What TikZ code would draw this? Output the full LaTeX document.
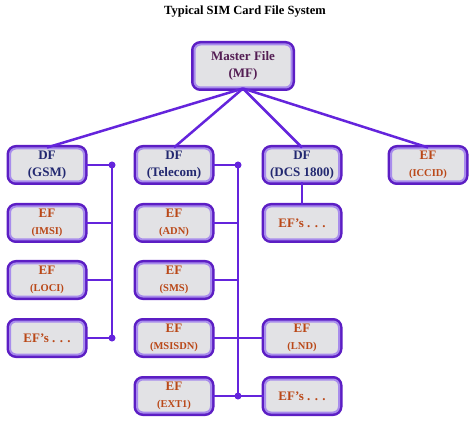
\documentclass[tikz,border=0pt]{standalone}
\usepackage{fontspec}
\setmainfont{Liberation Serif}
\usetikzlibrary{calc}
\definecolor{bordo}{RGB}{92,30,196}
\definecolor{bordochiaro}{RGB}{168,140,236}
\definecolor{grigio}{RGB}{226,226,229}
\definecolor{linea}{RGB}{100,36,220}
\definecolor{testodf}{RGB}{34,40,112}
\definecolor{testoef}{RGB}{186,72,24}
\definecolor{testomf}{RGB}{84,30,84}
\newcommand{\piccolo}[1]{{\fontsize{10.5}{11}\selectfont #1}}
\tikzset{
file node/.style={rectangle,rounded corners=6pt,fill=grigio,
  preaction={draw=bordo,line width=7pt},draw=bordochiaro,line width=2pt,
  minimum width=74pt,minimum height=33pt,inner sep=1pt,align=center,
  font=\bfseries\fontsize{13}{16.5}\selectfont},
df node/.style={file node,text=testodf},
ef node/.style={file node,text=testoef},
ramo/.style={draw=linea,line width=2.5pt},
punto/.style={circle,fill=linea,inner sep=0pt,minimum size=7pt}}

\begin{document}
\begin{tikzpicture}[x=1pt,y=-1pt]
\useasboundingbox (0,0) rectangle (474,422);

\node[font=\bfseries\fontsize{12.5}{14}\selectfont] (titolo) at (245,12) {Typical SIM Card File System};

\node[file node,text=testomf,minimum width=97pt,minimum height=43pt,
  font=\bfseries\fontsize{13}{17}\selectfont] (mf) at (243,66) {Master File\\(MF)};

\node[df node] (gsm) at (47,165) {DF\\(GSM)};
\node[ef node] (imsi) at (47,223) {EF\\\piccolo{(IMSI)}};
\node[ef node] (loci) at (47,280) {EF\\\piccolo{(LOCI)}};
\node[ef node] (gsmefs) at (47,338) {EF's . . .};

\node[df node] (telecom) at (174,165) {DF\\(Telecom)};
\node[ef node] (adn) at (174,223) {EF\\\piccolo{(ADN)}};
\node[ef node] (sms) at (174,280) {EF\\\piccolo{(SMS)}};
\node[ef node] (msisdn) at (174,338) {EF\\\piccolo{(MSISDN)}};
\node[ef node] (ext1) at (174,396) {EF\\\piccolo{(EXT1)}};

\node[df node] (dcs) at (302,165) {DF\\(DCS 1800)};
\node[ef node] (dcsefs) at (302,223) {EF's . . .};
\node[ef node] (lnd) at (302,338) {EF\\\piccolo{(LND)}};
\node[ef node] (telefs) at (302,396) {EF's . . .};

\node[ef node] (iccid) at (428,165) {EF\\\piccolo{(ICCID)}};

\coordinate (gsmtop) at (112,165);
\coordinate (gsmbot) at (112,338);
\coordinate (teltop) at (238,165);
\coordinate (telbot) at (238,396);

\path[ramo] (mf.south) edge (gsm.north);
\path[ramo] (mf.south) edge (telecom.north);
\path[ramo] (mf.south) edge (dcs.north);
\path[ramo] (mf.south) edge (iccid.north);

\path[ramo] (gsmtop) edge (gsmbot);
\path[ramo] (gsm.east) edge (gsmtop);
\path[ramo] (imsi.east) edge (imsi.east -| gsmtop);
\path[ramo] (loci.east) edge (loci.east -| gsmtop);
\path[ramo] (gsmefs.east) edge (gsmbot);

\path[ramo] (teltop) edge (telbot);
\path[ramo] (telecom.east) edge (teltop);
\path[ramo] (adn.east) edge (adn.east -| teltop);
\path[ramo] (sms.east) edge (sms.east -| teltop);
\path[ramo] (msisdn.east) edge (lnd.west);
\path[ramo] (ext1.east) edge (telefs.west);

\path[ramo] (dcs.south) edge (dcsefs.north);

\node[punto] at (gsmtop) {};
\node[punto] at (gsmbot) {};
\node[punto] at (teltop) {};
\node[punto] at (telbot) {};

\end{tikzpicture}
\end{document}
